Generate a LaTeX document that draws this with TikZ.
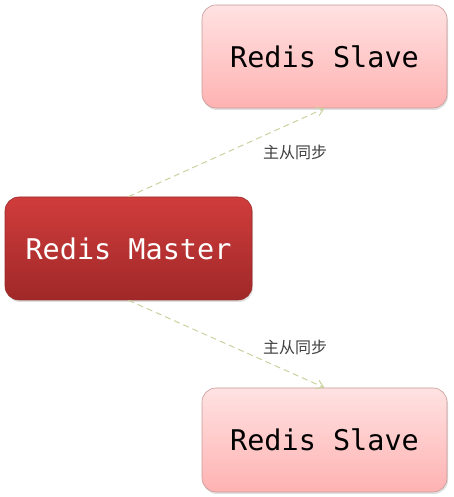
\documentclass[tikz,border=0pt]{standalone}
\usepackage{fontspec}
\setmonofont{DejaVu Sans Mono}
\newfontfamily\cjk{Noto Sans CJK SC}
\usetikzlibrary{shadows,arrows.meta}
\definecolor{mtop}{HTML}{D03C3C}
\definecolor{mbot}{HTML}{A02828}
\definecolor{stop}{HTML}{FFE2E2}
\definecolor{sbot}{HTML}{FFB2B2}
\definecolor{sborder}{HTML}{C89A9A}
\definecolor{mborder}{HTML}{9A2A2A}
\definecolor{linkc}{HTML}{C8D29E}
\definecolor{labc}{HTML}{404040}
\tikzset{
  box/.style={rounded corners=14pt, minimum width=245pt, minimum height=103pt,
    font=\ttfamily\fontsize{28.5}{31}\selectfont, line width=0.6pt,
    drop shadow={shadow xshift=1pt, shadow yshift=-2pt, opacity=0.25}},
  masterbox/.style={box, draw=mborder, top color=mtop, bottom color=mbot, text=white},
  slavebox/.style={box, draw=sborder, top color=stop, bottom color=sbot, text=black},
  link/.style={draw=linkc, line width=1pt, dash pattern=on 6pt off 4pt,
    -{Straight Barb[length=7pt,width=9pt]}},
  lab/.style={font=\cjk\fontsize{16}{18}\selectfont, text=labc}
}
\begin{document}
\begin{tikzpicture}[x=1pt,y=1pt]
\useasboundingbox (0,0) rectangle (453,497);
\node[slavebox] (s1) at (324.5,440.5) {Redis Slave};
\node[masterbox, minimum width=247pt] (m) at (128.5,248.5) {Redis Master};
\node[slavebox, minimum height=104pt] (s2) at (324.5,57) {Redis Slave};
\draw[link] (m.north) -- (s1.south);
\draw[link] (m.south) -- (s2.north);
\node[lab] (l1) at (295,345) {主从同步};
\node[lab] (l2) at (295,150) {主从同步};
\end{tikzpicture}
\end{document}
